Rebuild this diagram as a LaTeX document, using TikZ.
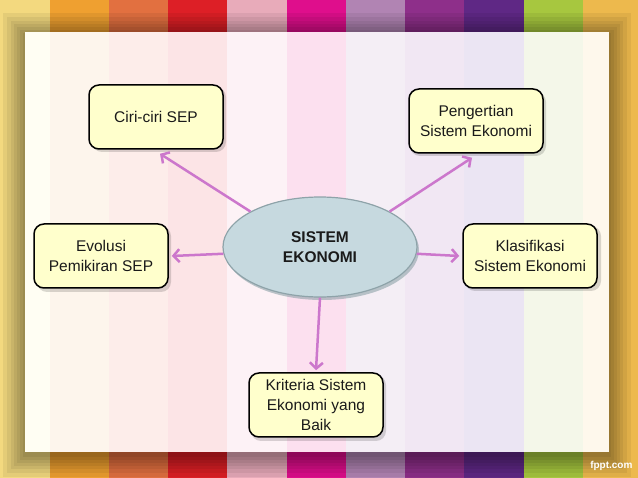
\documentclass[tikz,border=0pt]{standalone}
\usepackage{fontspec}
\setmainfont{Liberation Sans}
\usetikzlibrary{arrows.meta,shapes.geometric}
\definecolor{o0}{HTML}{F3D97F}
\definecolor{o1}{HTML}{EFA030}
\definecolor{o2}{HTML}{E27040}
\definecolor{o3}{HTML}{DD1F26}
\definecolor{o4}{HTML}{E8ABBA}
\definecolor{o5}{HTML}{DF0E8C}
\definecolor{o6}{HTML}{B184B3}
\definecolor{o7}{HTML}{8E2F8A}
\definecolor{o8}{HTML}{5F2885}
\definecolor{o9}{HTML}{A7C73F}
\definecolor{o10}{HTML}{EDB94D}
\definecolor{p0}{HTML}{FFFEF3}
\definecolor{p1}{HTML}{FDF5EC}
\definecolor{p2}{HTML}{FDEDEA}
\definecolor{p3}{HTML}{FCE4E6}
\definecolor{p4}{HTML}{FDF2F6}
\definecolor{p5}{HTML}{FCE0EF}
\definecolor{p6}{HTML}{F4EEF5}
\definecolor{p7}{HTML}{F1E7F3}
\definecolor{p8}{HTML}{EBE5F3}
\definecolor{p9}{HTML}{F4F7E9}
\definecolor{p10}{HTML}{FEF8EC}
\definecolor{boxfill}{HTML}{FFFFCC}
\definecolor{ellfill}{HTML}{C6D9DF}
\definecolor{elldraw}{HTML}{8EA3A9}
\definecolor{arrcol}{HTML}{CC77CC}
\definecolor{txt}{HTML}{1A1A1A}
\tikzset{
  topic/.style={draw=black, line width=1.5pt, fill=boxfill, rounded corners=10pt,
    minimum width=134pt, minimum height=64pt, align=center, text=txt,
    font=\fontsize{15.5}{20}\selectfont, inner sep=2pt},
  topicshadow/.style={fill=black, opacity=0.15, rounded corners=10pt},
  hub/.style={ellipse, draw=elldraw, line width=1.2pt, fill=ellfill, minimum width=194pt,
    minimum height=100pt, inner sep=0pt, align=center, text=txt,
    font=\fontsize{15.5}{20}\selectfont\bfseries},
  link/.style={draw=arrcol, line width=2.5pt, -{Straight Barb[length=6pt,width=13pt]}},
}
\begin{document}
\begin{tikzpicture}[x=1pt,y=-1pt]
\useasboundingbox (0,0) rectangle (638,478);
% outer stripes
\fill[o0] (0,0) rectangle (50,478);
\fill[o1] (50,0) rectangle (109,478);
\fill[o2] (109,0) rectangle (168,478);
\fill[o3] (168,0) rectangle (227,478);
\fill[o4] (227,0) rectangle (287,478);
\fill[o5] (287,0) rectangle (346,478);
\fill[o6] (346,0) rectangle (405,478);
\fill[o7] (405,0) rectangle (464,478);
\fill[o8] (464,0) rectangle (524,478);
\fill[o9] (524,0) rectangle (583,478);
\fill[o10] (583,0) rectangle (638,478);
% panel shadow
\foreach \k in {2,5,8,11,14,18,22}{
  \fill[black,opacity=0.06] (25-\k,32-\k+3) rectangle (609+\k,452+\k+3);
}
% panel stripes
\fill[p0] (25,32) rectangle (50,452);
\fill[p1] (50,32) rectangle (109,452);
\fill[p2] (109,32) rectangle (168,452);
\fill[p3] (168,32) rectangle (227,452);
\fill[p4] (227,32) rectangle (287,452);
\fill[p5] (287,32) rectangle (346,452);
\fill[p6] (346,32) rectangle (405,452);
\fill[p7] (405,32) rectangle (464,452);
\fill[p8] (464,32) rectangle (524,452);
\fill[p9] (524,32) rectangle (583,452);
\fill[p10] (583,32) rectangle (609,452);
% shadows of boxes
\fill[topicshadow] (92,87) rectangle (226,152);
\fill[topicshadow] (410,92) rectangle (546,156);
\fill[topicshadow] (37,226) rectangle (171,292);
\fill[topicshadow] (465,226) rectangle (601,291);
\fill[topicshadow] (251,375) rectangle (386,441);
\fill[elldraw,opacity=0.6] (322,250) ellipse [x radius=97, y radius=50];
% nodes
\node[hub] (c) at (320,247) {SISTEM\\EKONOMI};
\node[topic] (ciri) at (156,117) {Ciri-ciri SEP};
\node[topic] (peng) at (476,121) {Pengertian\\Sistem Ekonomi};
\node[topic] (evol) at (101,256) {Evolusi\\Pemikiran SEP};
\node[topic] (klas) at (530,256) {Klasifikasi\\Sistem Ekonomi};
\node[topic] (krit) at (316,405) {Kriteria Sistem\\Ekonomi yang\\Baik};
% connectors
\draw[link] (c.153) -- ([shift={(4,4)}]ciri.south);
\draw[link] (c.27) -- ([shift={(-4,4)}]peng.south);
\draw[link] (c.184) -- ([shift={(3,0)}]evol.east);
\draw[link] (c.356) -- ([shift={(-3,0)}]klas.west);
\draw[link] (c.south) -- ([shift={(0,-2)}]krit.north);
% footer
\node[text=white, font=\fontsize{10}{12}\selectfont\bfseries, anchor=east] (brand) at (636,466) {fppt.com};
\end{tikzpicture}
\end{document}
